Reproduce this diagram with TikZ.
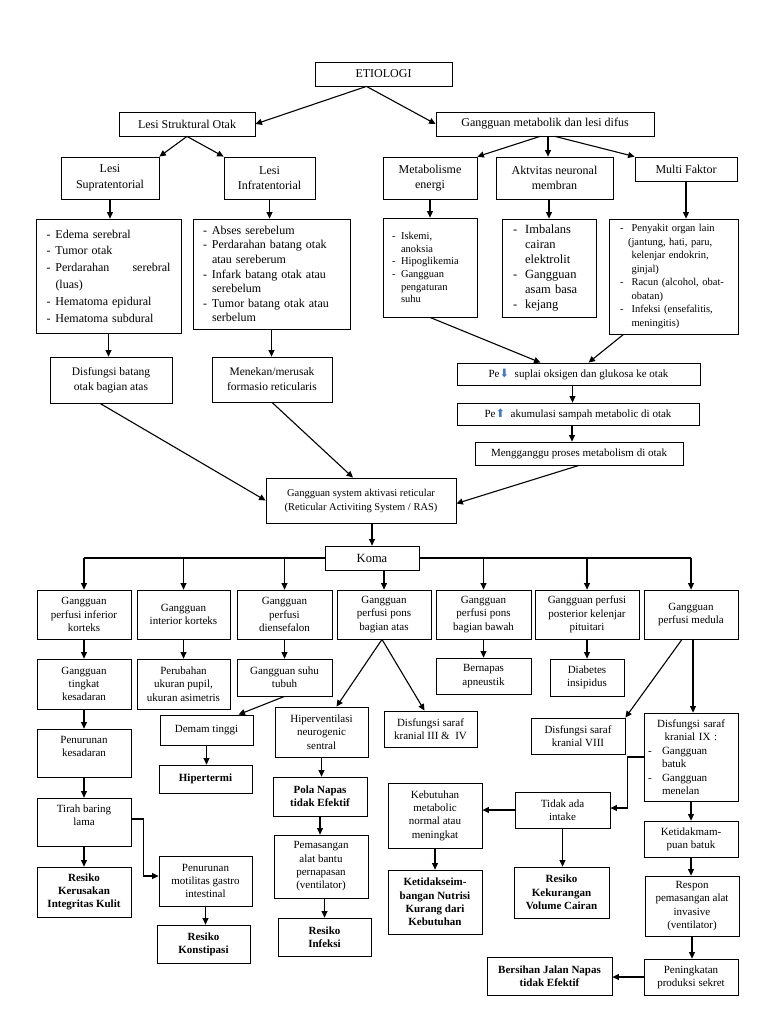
\documentclass[tikz,border=0pt]{standalone}
\usepackage{fontspec}
\setmainfont{Liberation Serif}
\newfontfamily\pefont{DejaVu Sans}
\usetikzlibrary{arrows.meta}
\definecolor{peblue}{RGB}{70,120,200}
\newcommand\lsdash[1][9pt]{\makebox[#1][l]{-}}
\newcommand\lsind[1][9pt]{\hspace*{#1}}
\newcommand\lsjust[2]{\makebox[#1][s]{#2}}
\newcommand\pearrow[1]{{\color{peblue}\pefont\fontsize{11.5}{11}\selectfont #1}}
\tikzset{
  sz/.style 2 args={minimum width=#1pt, minimum height=#2pt},
  box/.style={draw=black, line width=0.8pt, align=center, inner sep=1pt, font=\fontsize{11}{13.3}\selectfont},
  bbox/.style={box, font=\fontsize{11}{13.3}\selectfont\bfseries},
  big/.style={box, font=\fontsize{12}{15.5}\selectfont},
  lst/.style={draw=black, line width=0.8pt, align=left, inner sep=0pt},
  arr/.style={->, line width=1.1pt},
  ln/.style={line width=1.1pt}
}
\begin{document}
\begin{tikzpicture}[x=1pt, y=-1pt, >={Triangle[length=6.5pt,width=6pt]}]
		\fill[white] (0,0) rectangle (768,1024);
		\useasboundingbox (0,0) rectangle (768,1024);
		
		% ETIOLOGI AND ITS TWO BRANCHES
		\node[big, sz={137}{24}] (etio) at (383.5,74) {ETIOLOGI};
		\node[big, sz={136}{24}] (lso) at (187,124) {Lesi Struktural Otak};
		\node[big, sz={218}{24}] (gml) at (545,124) {Gangguan metabolik dan lesi difus};
		
		\node[big, sz={98}{42}] (sup) at (110,178) {Lesi\\Supratentorial};
		\node[big, sz={91}{42}] (inf) at (269.5,178) {Lesi\\Infratentorial};
		\node[big, sz={94}{42}] (metab) at (430,178) {Metabolisme\\energi};
		\node[big, sz={117}{42}] (aktv) at (554.5,178) {Aktvitas neuronal\\membran};
		\node[big, sz={102}{24}] (multi) at (686,169) {Multi Faktor};
		
		% LISTS OF CAUSES
		\node[lst, sz={145}{114}, text width=124pt, font=\fontsize{12}{16.8}\selectfont] (supl) at (108.5,276) {\lsdash Edema serebral\\\lsdash Tumor otak\\\lsdash Perdarahan\hfill serebral\\\lsind(luas)\\\lsdash Hematoma epidural\\\lsdash Hematoma subdural};
		\node[lst, sz={157}{110}, text width=137pt, font=\fontsize{12}{14.6}\selectfont] (infl) at (271.5,274) {\lsdash Abses serebelum\\\lsdash\lsjust{127.5pt}{Perdarahan batang otak}\\\lsind atau sereberum\\\lsdash\lsjust{127.5pt}{Infark batang otak atau}\\\lsind serebelum\\\lsdash\lsjust{127.5pt}{Tumor batang otak atau}\\\lsind serbelum};
		\node[lst, sz={94}{99}, text width=76pt, font=\fontsize{10.5}{12.7}\selectfont] (metl) at (430,267.5) {\lsdash Iskemi,\\\lsind anoksia\\\lsdash Hipoglikemia\\\lsdash Gangguan\\\lsind pengaturan\\\lsind suhu};
		\node[lst, sz={94}{98}, text width=72pt, font=\fontsize{12.5}{15}\selectfont] (aktl) at (549,268) {\lsdash[8pt] Imbalans\\\lsind[8pt] cairan\\\lsind[8pt] elektrolit\\\lsdash[8pt] Gangguan\\\lsind[8pt] asam basa\\\lsdash[8pt] kejang};
		\node[lst, sz={129}{115}, text width=107pt, font=\fontsize{10.5}{13.5}\selectfont] (multl) at (673.5,276.5) {\lsdash[8pt] Penyakit organ lain\\\lsind[8pt](jantung, hati, paru,\\\lsind[8pt] kelenjar endokrin,\\\lsind[8pt] ginjal)\\\lsdash[8pt] Racun (alcohol, obat-\\\lsind[8pt] obatan)\\\lsdash[8pt] Infeksi (ensefalitis,\\\lsind[8pt] meningitis)};
		
		% MIDDLE PART
		\node[box, sz={122}{46}, font=\fontsize{11.5}{15}\selectfont] (disb) at (111,380) {Disfungsi batang\\otak bagian atas};
		\node[box, sz={120}{45}, font=\fontsize{11.5}{15}\selectfont] (menk) at (272,379.5) {Menekan/merusak\\formasio reticularis};
		\node[box, sz={243}{22}] (pdown) at (578.5,374) {Pe\pearrow{⬇}\ \ suplai oksigen dan glukosa ke otak};
		\node[box, sz={242}{22}] (pup) at (578,414) {Pe\pearrow{⬆}\ \ akumulasi sampah metabolic di otak};
		\node[box, sz={208}{23}] (meng) at (579,453.5) {Mengganggu proses metabolism di otak};
		\node[box, sz={190}{45}, font=\fontsize{10.5}{14}\selectfont] (ras) at (361,500.5) {Gangguan system aktivasi reticular\\(Reticular Activiting System / RAS)};
		\node[box, sz={94}{24}, font=\fontsize{12.5}{15}\selectfont] (koma) at (372,558) {Koma};
		
		% FIRST ROW UNDER KOMA
		\node[box, sz={94}{49}] (r1a) at (84,614.5) {Gangguan\\perfusi inferior\\korteks};
		\node[box, sz={93}{49}] (r1b) at (183.5,614.5) {Gangguan\\interior korteks};
		\node[box, sz={95}{49}] (r1c) at (284.5,614.5) {Gangguan\\perfusi\\diensefalon};
		\node[box, sz={94}{49}] (r1d) at (384,614.5) {Gangguan\\perfusi pons\\bagian atas};
		\node[box, sz={95}{49}] (r1e) at (483.5,614.5) {Gangguan\\perfusi pons\\bagian bawah};
		\node[box, sz={104}{49}] (r1f) at (587,614.5) {Gangguan perfusi\\posterior kelenjar\\pituitari};
		\node[box, sz={94}{49}] (r1g) at (691,614.5) {Gangguan\\perfusi medula};
		
		% SECOND ROW
		\node[box, sz={94}{50}] (r2a) at (84,684) {Gangguan\\tingkat\\kesadaran};
		\node[box, sz={93}{50}] (r2b) at (183.5,684) {Perubahan\\ukuran pupil,\\ukuran asimetris};
		\node[box, sz={95}{37}] (r2c) at (284.5,677.5) {Gangguan suhu\\tubuh};
		\node[box, sz={95}{36}] (r2e) at (483.5,676) {Bernapas\\apneustik};
		\node[box, sz={74}{37}] (r2f) at (587,677.5) {Diabetes\\insipidus};
		
		% FURTHER STEPS
		\node[box, sz={94}{48}] (penk) at (84,753) {Penurunan\\kesadaran\\\mbox{}};
		\node[box, sz={93}{30}] (demam) at (206.5,730) {Demam tinggi};
		\node[box, sz={93}{50}] (hiperv) at (321.5,732) {Hiperventilasi\\neurogenic\\sentral};
		\node[box, sz={93}{36}] (d34) at (430.5,729) {Disfungsi saraf\\kranial III \&\ \ IV};
		\node[box, sz={94}{36}] (d8) at (578,736) {Disfungsi saraf\\kranial VIII};
		\node[lst, sz={94}{88}, text width=86pt, font=\fontsize{11}{13.5}\selectfont] (d9) at (691,757) {\makebox[86pt]{Disfungsi saraf}\\\makebox[86pt]{kranial IX :}\\\lsdash[14pt]Gangguan\\\lsind[14pt]batuk\\\lsdash[14pt]Gangguan\\\lsind[14pt]menelan};
		
		\node[box, sz={94}{48}] (tirah) at (84,822) {Tirah baring\\lama\\\mbox{}};
		\node[box, sz={93}{50}] (motil) at (205.5,881) {Penurunan\\motilitas gastro\\intestinal};
		\node[box, sz={94}{63}] (pasang) at (321,866.5) {Pemasangan\\alat bantu\\pernapasan\\(ventilator)};
		\node[box, sz={94}{65}] (kebut) at (435,815.5) {Kebutuhan\\metabolic\\normal atau\\meningkat};
		\node[box, sz={95}{36}] (intake) at (562.5,810) {Tidak ada\\intake};
		\node[box, sz={94}{36}] (batuk) at (691,839) {Ketidakmam-\\puan batuk};
		\node[box, sz={94}{60}] (respon) at (692,906) {Respon\\pemasangan alat\\invasive\\(ventilator)};
		\node[box, sz={94}{36}] (sekret) at (691,977) {Peningkatan\\produksi sekret};
		
		% DIAGNOSES IN BOLD
		\node[bbox, sz={93}{28}] (hiperm) at (205.5,779) {Hipertermi};
		\node[bbox, sz={94}{39}] (pola) at (320,796.5) {Pola Napas\\tidak Efektif};
		\node[bbox, sz={94}{50}] (rkul) at (84,892) {Resiko\\Kerusakan\\Integritas Kulit};
		\node[bbox, sz={93}{38}] (konst) at (203.5,944) {Resiko\\Konstipasi};
		\node[bbox, sz={93}{38}] (infek) at (324.5,937) {Resiko\\Infeksi};
		\node[bbox, sz={94}{64}] (nutri) at (435,902) {Ketidakseim-\\bangan Nutrisi\\Kurang dari\\Kebutuhan};
		\node[bbox, sz={95}{51}] (cair) at (561.5,892.5) {Resiko\\Kekurangan\\Volume Cairan};
		\node[bbox, sz={125}{38}] (bersih) at (549.5,976) {Bersihan Jalan Napas\\tidak Efektif};
		
		% ARROWS IN THE UPPER PART
		\draw[arr] ([xshift=-17pt]etio.south) -- (lso.east);
		\draw[arr] ([xshift=-17pt]etio.south) -- (gml.west);
		\draw[arr] (lso.south) -- (sup.north east);
		\draw[arr] (lso.south) -- (inf.north west);
		\draw[arr] ([xshift=-5pt]gml.south) -- (metab.north east);
		\draw[arr] ([xshift=3pt]gml.south) -- ([xshift=3pt]gml.south |- aktv.north);
		\draw[arr] ([xshift=10pt]gml.south) -- (multi.north west);
		\draw[arr] (sup.south) -- (sup.south |- supl.north);
		\draw[arr] (inf.south) -- (inf.south |- infl.north);
		\draw[arr] (metab.south) -- (metab.south |- metl.north);
		\draw[arr] (aktl.north |- aktv.south) -- (aktl.north);
		\draw[arr] (multi.south) -- (multi.south |- multl.north);
		\draw[arr] (supl.south) -- (supl.south |- disb.north);
		\draw[arr] (infl.south) -- (infl.south |- menk.north);
		\draw[arr] (metl.south) -- ([xshift=-38pt]pdown.north);
		\draw[arr] ([xshift=-50pt]multl.south) -- ([xshift=10pt]pdown.north);
		\draw[arr] ([xshift=-6pt]pdown.south) -- ([xshift=-6pt]pdown.south |- pup.north);
		\draw[arr] ([xshift=-6pt]pup.south) -- ([xshift=-6pt]pup.south |- meng.north);
		\draw[arr] ([xshift=-11pt]disb.south) -- (ras.west);
		\draw[arr] (menk.south) -- ([xshift=-8pt]ras.north);
		\draw[arr] (meng.south) -- ([yshift=-3pt]ras.east);
		\draw[arr] (koma.north |- ras.south) -- (koma.north);
		
		% KOMA LINE AND DROPS
		\draw[ln] (r1a.north |- koma.west) -- (koma.west);
		\draw[ln] (koma.east) -- (r1g.north |- koma.east);
		\draw[arr] (r1a.north |- koma.west) -- (r1a.north);
		\draw[arr] (r1b.north |- koma.west) -- (r1b.north);
		\draw[arr] (r1c.north |- koma.west) -- (r1c.north);
		\draw[arr] (r1d.north |- koma.south) -- (r1d.north);
		\draw[arr] (r1e.north |- koma.east) -- (r1e.north);
		\draw[arr] (r1f.north |- koma.east) -- (r1f.north);
		\draw[arr] (r1g.north |- koma.east) -- (r1g.north);
		
		% ARROWS IN THE LOWER PART
		\draw[arr] (r1a.south) -- (r1a.south |- r2a.north);
		\draw[arr] (r2a.south) -- (r2a.south |- penk.north);
		\draw[arr] (penk.south) -- (penk.south |- tirah.north);
		\draw[arr] (tirah.south) -- (tirah.south |- rkul.north);
		\draw[arr] ([yshift=3pt]tirah.east) -- ++(12,0) |- ([yshift=5pt]motil.west);
		\draw[arr] (motil.south) -- (motil.south |- konst.north);
		\draw[arr] (r1b.south) -- (r1b.south |- r2b.north);
		\draw[arr] (r1c.south) -- (r1c.south |- r2c.north);
		\draw[arr] (r2c.south) -- ([xshift=32pt]demam.north);
		\draw[arr] (demam.south) -- (demam.south |- hiperm.north);
		\draw[arr] ([xshift=-2pt]r1d.south) -- ([xshift=15pt]hiperv.north);
		\draw[arr] ([xshift=-2pt]r1d.south) -- ([xshift=-6pt]d34.north);
		\draw[arr] (hiperv.south) -- (hiperv.south |- pola.north);
		\draw[arr] (pola.south) -- (pola.south |- pasang.north);
		\draw[arr] (infek.north |- pasang.south) -- (infek.north);
		\draw[arr] (r1e.south) -- (r1e.south |- r2e.north);
		\draw[arr] (r1f.south) -- (r1f.south |- r2f.north);
		\draw[arr] ([xshift=-9pt]r1g.south) -- (d8.north east);
		\draw[arr] ([xshift=2pt]r1g.south) -- ([xshift=2pt]r1g.south |- d9.north);
		\draw[arr] (d9.west) -- ++(-16,0) |- ([yshift=2pt]intake.east);
		\draw[arr] (intake.west) -- (intake.west -| kebut.east);
		\draw[arr] (kebut.south) -- (kebut.south |- nutri.north);
		\draw[arr] (intake.south) -- (intake.south |- cair.north);
		\draw[arr] (d9.south) -- (d9.south |- batuk.north);
		\draw[arr] (batuk.south) -- (batuk.south |- respon.north);
		\draw[arr] (respon.south) -- (respon.south |- sekret.north);
		\draw[arr] (sekret.west) -- (sekret.west -| bersih.east);
	\end{tikzpicture}
\end{document}
